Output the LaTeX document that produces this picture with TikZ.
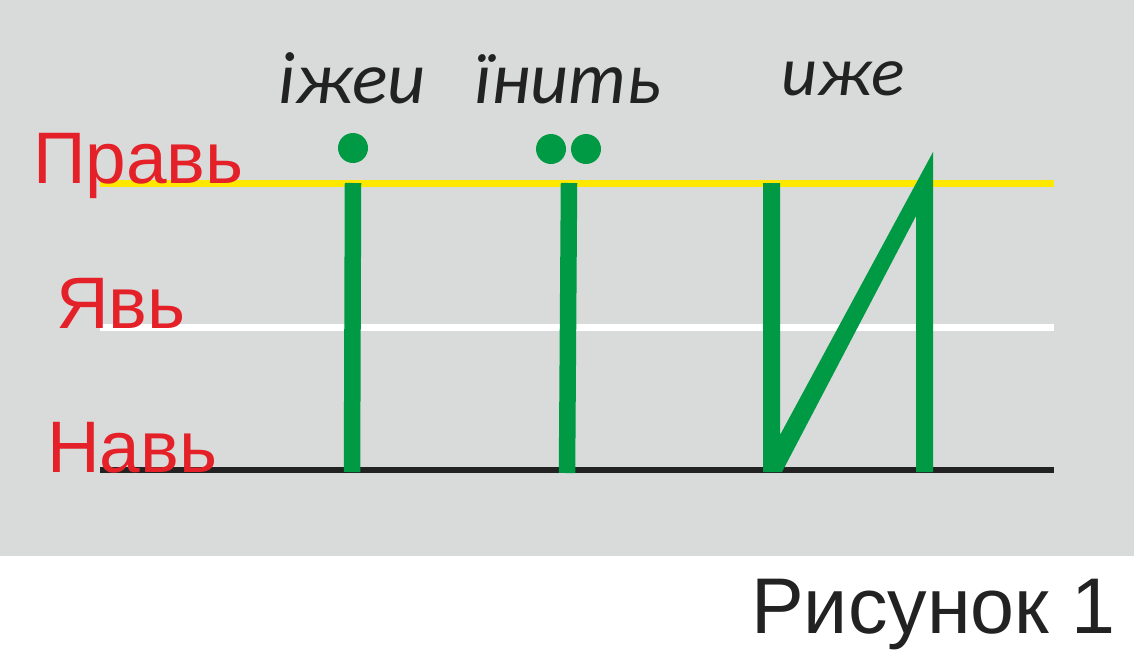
\documentclass[tikz,border=0pt]{standalone}
\usepackage{fontspec}
\setmainfont{Liberation Sans}
\newfontfamily\capfont{Carlito}
\definecolor{bggray}{HTML}{D9DBDA}
\definecolor{barg}{HTML}{009A44}
\definecolor{lvlyellow}{HTML}{FFE800}
\definecolor{lblred}{HTML}{E42128}
\definecolor{inkdark}{HTML}{222222}
\tikzset{
  bar/.style={barg, line width=16.5pt, line cap=butt},
  lvl/.style={line width=7pt, line cap=butt},
  lbl/.style={inner sep=0pt, anchor=base west, text=lblred, font=\fontsize{73}{73}\selectfont},
  word/.style={inner sep=0pt, anchor=base west, text=inkdark, font=\capfont\itshape\fontsize{74}{74}\selectfont},
  dotg/.style={fill=barg, draw=none},
}
\begin{document}
\begin{tikzpicture}[x=1pt,y=-1pt]
\useasboundingbox (0,0) rectangle (1134,651);
\fill[white] (0,0) rectangle (1134,651);
\fill[bggray] (0,0) rectangle (1134,556);
% level lines
\coordinate (pL) at (100,183); \coordinate (pR) at (1054,183);
\coordinate (yL) at (100,327); \coordinate (yR) at (1054,327);
\coordinate (nL) at (100,470); \coordinate (nR) at (1054,470);
\draw[lvl, lvlyellow] (pL) -- (pR);
\draw[lvl, white] (yL) -- (yR);
\draw[lvl, inkdark, line width=6pt] (nL) -- (nR);
% bars
\coordinate (b1t) at (353,183); \coordinate (b1b) at (352,472);
\coordinate (b2t) at (569,183); \coordinate (b2b) at (567,473);
\draw[bar] (b1t) -- (b1b);
\draw[bar] (b2t) -- (b2b);
% dots
\fill[dotg] (353,148) circle (15);
\fill[dotg] (551,149) circle (15);
\fill[dotg] (586,149) circle (15);
% letter I
\fill[barg] (763,183) -- (780,183) -- (780,435) -- (933,152) -- (933,472) -- (916,472)
  -- (916,216) -- (782,472) -- (763,472) -- cycle;
% labels
\node[lbl] (prav) at (33,183) {Правь};
\node[lbl] (yav) at (56,328) {Явь};
\node[lbl] (nav) at (47,472) {Навь};
\node[word] (w1) at (278,103) {іжеи};
\node[word] (w2) at (474,103) {їнить};
\node[word, font=\capfont\itshape\fontsize{70}{70}\selectfont] (w3) at (781,95) {иже};
\node[inner sep=0pt, anchor=base west, text=inkdark, font=\fontsize{79}{79}\selectfont] (cap) at (751,633) {Рисунок 1};
\end{tikzpicture}
\end{document}
